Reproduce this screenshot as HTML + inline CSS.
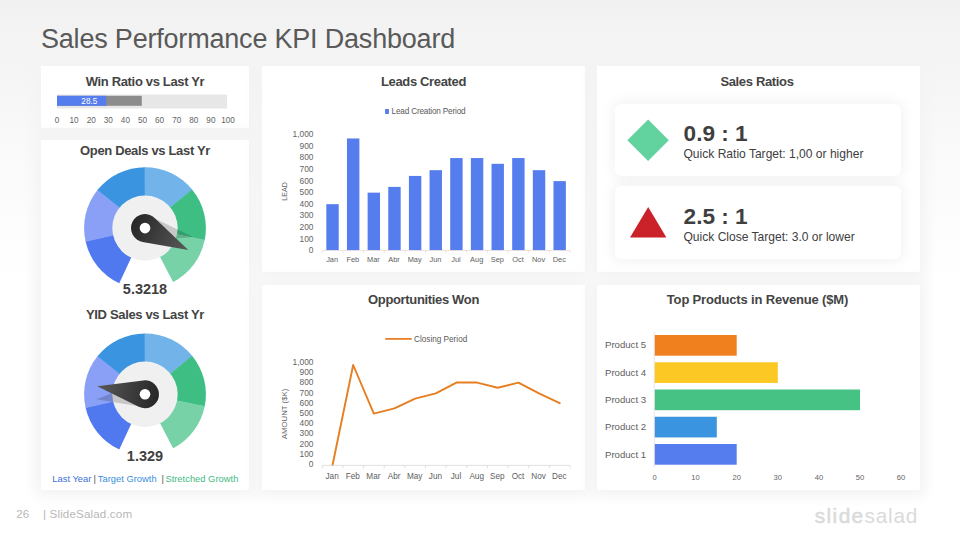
<!DOCTYPE html>
<html><head><meta charset="utf-8"><title>Sales Performance KPI Dashboard</title>
<style>
html,body{margin:0;padding:0}
body{width:960px;height:540px;overflow:hidden;position:relative;font-family:"Liberation Sans",sans-serif;
background:linear-gradient(180deg,#F1F1F1 0px,#F5F5F5 66px,#F9F9F9 140px,#FDFDFD 220px,#FFFFFF 290px);}
.card{position:absolute;background:#fff;box-shadow:0 0 14px 6px rgba(243,243,243,1);border-radius:1px}
.t{position:absolute;font-weight:bold;font-size:13px;letter-spacing:-0.34px;color:#444;text-align:center;white-space:nowrap;line-height:16px}
#title{position:absolute;left:41px;top:23px;font-size:27px;color:#595959;white-space:nowrap;line-height:32px;letter-spacing:-0.2px}
svg{position:absolute;left:0;top:0}
svg text{font-family:"Liberation Sans",sans-serif}
.ax{font-size:8.4px;fill:#646464}
.mx{font-size:7.4px;fill:#5E5E5E}
.ax2{font-size:7.6px;fill:#646464}
.lg{font-size:8.2px;letter-spacing:-0.17px;fill:#5A5A5A}
.pl{font-size:9.6px;fill:#606060}
.inner{position:absolute;background:#fff;border-radius:6px;box-shadow:0 0 14px 2px rgba(0,0,0,.06)}
.big{position:absolute;font-weight:bold;font-size:22.6px;letter-spacing:0px;color:#3F3F3F;white-space:nowrap;line-height:28px}
.sm{position:absolute;font-size:12.05px;color:#404040;white-space:nowrap;line-height:14px}
.val{position:absolute;font-weight:bold;font-size:14.5px;color:#404040;text-align:center;white-space:nowrap;line-height:18px}
.foot{position:absolute;font-size:11.6px;letter-spacing:0.15px;color:#B8B8B8;white-space:nowrap;line-height:12px}
</style></head><body>
<div id="title">Sales Performance KPI Dashboard</div>

<div class="card" style="left:41px;top:65.7px;width:207.8px;height:62.7px"></div>
<div class="card" style="left:41px;top:139.8px;width:207.8px;height:350px"></div>
<div class="card" style="left:262.2px;top:65.7px;width:322.6px;height:206px"></div>
<div class="card" style="left:262.2px;top:284.8px;width:322.6px;height:205px"></div>
<div class="card" style="left:597.3px;top:65.7px;width:322.8px;height:206px"></div>
<div class="card" style="left:597.3px;top:284.8px;width:322.8px;height:205px"></div>

<div class="inner" style="left:615px;top:104px;width:286px;height:72px"></div>
<div class="inner" style="left:615px;top:186px;width:286px;height:73px"></div>

<svg width="960" height="540" viewBox="0 0 960 540">
<defs>
<linearGradient id="ng1" gradientUnits="userSpaceOnUse" x1="131" y1="222" x2="189" y2="250"><stop offset="0" stop-color="#262626"/><stop offset="1" stop-color="#5A5A5A"/></linearGradient>
<linearGradient id="ng2" gradientUnits="userSpaceOnUse" x1="159" y1="398" x2="96" y2="386"><stop offset="0" stop-color="#262626"/><stop offset="1" stop-color="#5A5A5A"/></linearGradient>
</defs>
<!-- win ratio bar -->
<rect x="57" y="94.5" width="170" height="14" fill="#E7E7E7"/>
<rect x="57" y="95.8" width="84.8" height="10" fill="#8C8C8C"/>
<rect x="57" y="95.8" width="49.2" height="10" fill="#557DEE"/>
<text x="89.3" y="103.9" text-anchor="middle" font-size="8.2" fill="#fff">28.5</text>
<g class="ax" text-anchor="middle">
<text x="57.0" y="123" style="font-size:8.2px">0</text><text x="74.1" y="123" style="font-size:8.2px">10</text><text x="91.2" y="123" style="font-size:8.2px">20</text><text x="108.3" y="123" style="font-size:8.2px">30</text><text x="125.4" y="123" style="font-size:8.2px">40</text><text x="142.5" y="123" style="font-size:8.2px">50</text><text x="159.6" y="123" style="font-size:8.2px">60</text><text x="176.7" y="123" style="font-size:8.2px">70</text><text x="193.8" y="123" style="font-size:8.2px">80</text><text x="210.9" y="123" style="font-size:8.2px">90</text><text x="228.0" y="123" style="font-size:8.2px">100</text>
</g>
<!-- gauges -->
<path d="M145 228.1L119.26 283.29A60.9 60.9 0 0 1 85.54 241.28Z" fill="#5079F0"/>
<path d="M145 228.1L85.64 241.70A60.9 60.9 0 0 1 97.67 189.77Z" fill="#8AA0F6"/>
<path d="M145 228.1L97.41 190.11A60.9 60.9 0 0 1 145.00 167.20Z" fill="#3A94E0"/>
<path d="M145 228.1L144.57 167.20A60.9 60.9 0 0 1 192.33 189.77Z" fill="#72B4EA"/>
<path d="M145 228.1L192.06 189.44A60.9 60.9 0 0 1 204.68 240.24Z" fill="#3FBE84"/>
<path d="M145 228.1L204.76 239.82A60.9 60.9 0 0 1 173.12 282.12Z" fill="#77D3A7"/>
<circle cx="145" cy="228.1" r="32.7" fill="#F0F0F0"/>
<path d="M193.18 237.03L150.68 216.40A13 13 0 1 0 146.11 241.05Z" fill="#000" opacity="0.17"/>
<path d="M188.29 249.97L154.65 217.96A14 14 0 1 0 142.56 241.89Z" fill="url(#ng1)"/>
<circle cx="145" cy="228.1" r="5.3" fill="#fff"/>

<path d="M145 394.3L119.26 449.49A60.9 60.9 0 0 1 85.54 407.48Z" fill="#5079F0"/>
<path d="M145 394.3L85.64 407.90A60.9 60.9 0 0 1 97.67 355.97Z" fill="#8AA0F6"/>
<path d="M145 394.3L97.41 356.31A60.9 60.9 0 0 1 145.00 333.40Z" fill="#3A94E0"/>
<path d="M145 394.3L144.57 333.40A60.9 60.9 0 0 1 192.33 355.97Z" fill="#72B4EA"/>
<path d="M145 394.3L192.06 355.64A60.9 60.9 0 0 1 204.68 406.44Z" fill="#3FBE84"/>
<path d="M145 394.3L204.76 406.02A60.9 60.9 0 0 1 173.12 448.32Z" fill="#77D3A7"/>
<circle cx="145" cy="394.3" r="32.7" fill="#F0F0F0"/>
<path d="M96.25 399.25L142.84 407.12A13 13 0 1 0 140.30 382.18Z" fill="#000" opacity="0.17"/>
<path d="M97.19 386.13L138.76 406.83A14 14 0 1 0 143.27 380.41Z" fill="url(#ng2)"/>
<circle cx="145" cy="394.3" r="5.3" fill="#fff"/>

<!-- leads -->
<text x="313.5" y="253.1" text-anchor="end" class="ax">0</text>
<text x="313.5" y="241.5" text-anchor="end" class="ax">100</text>
<text x="313.5" y="229.9" text-anchor="end" class="ax">200</text>
<text x="313.5" y="218.3" text-anchor="end" class="ax">300</text>
<text x="313.5" y="206.7" text-anchor="end" class="ax">400</text>
<text x="313.5" y="195.1" text-anchor="end" class="ax">500</text>
<text x="313.5" y="183.5" text-anchor="end" class="ax">600</text>
<text x="313.5" y="171.9" text-anchor="end" class="ax">700</text>
<text x="313.5" y="160.3" text-anchor="end" class="ax">800</text>
<text x="313.5" y="148.7" text-anchor="end" class="ax">900</text>
<text x="313.5" y="137.1" text-anchor="end" class="ax">1,000</text>
<rect x="326.32" y="204.18" width="12.4" height="46.12" fill="#557DEE"/>
<text x="332.1" y="262.2" text-anchor="middle" class="mx">Jan</text>
<rect x="346.97" y="138.46" width="12.4" height="111.84" fill="#557DEE"/>
<text x="352.8" y="262.2" text-anchor="middle" class="mx">Feb</text>
<rect x="367.62" y="192.65" width="12.4" height="57.65" fill="#557DEE"/>
<text x="373.4" y="262.2" text-anchor="middle" class="mx">Mar</text>
<rect x="388.27" y="186.89" width="12.4" height="63.41" fill="#557DEE"/>
<text x="394.1" y="262.2" text-anchor="middle" class="mx">Abr</text>
<rect x="408.92" y="175.93" width="12.4" height="74.37" fill="#557DEE"/>
<text x="414.7" y="262.2" text-anchor="middle" class="mx">May</text>
<rect x="429.57" y="170.17" width="12.4" height="80.13" fill="#557DEE"/>
<text x="435.4" y="262.2" text-anchor="middle" class="mx">Jun</text>
<rect x="450.22" y="158.06" width="12.4" height="92.24" fill="#557DEE"/>
<text x="456.0" y="262.2" text-anchor="middle" class="mx">Jul</text>
<rect x="470.88" y="158.06" width="12.4" height="92.24" fill="#557DEE"/>
<text x="476.7" y="262.2" text-anchor="middle" class="mx">Aug</text>
<rect x="491.52" y="163.83" width="12.4" height="86.47" fill="#557DEE"/>
<text x="497.3" y="262.2" text-anchor="middle" class="mx">Sep</text>
<rect x="512.17" y="158.06" width="12.4" height="92.24" fill="#557DEE"/>
<text x="518.0" y="262.2" text-anchor="middle" class="mx">Oct</text>
<rect x="532.83" y="170.17" width="12.4" height="80.13" fill="#557DEE"/>
<text x="538.6" y="262.2" text-anchor="middle" class="mx">Nov</text>
<rect x="553.47" y="181.12" width="12.4" height="69.18" fill="#557DEE"/>
<text x="559.3" y="262.2" text-anchor="middle" class="mx">Dec</text>
<path d="M322.2 250.5H570.00M322.20 250.5v2.4M342.85 250.5v2.4M363.50 250.5v2.4M384.15 250.5v2.4M404.80 250.5v2.4M425.45 250.5v2.4M446.10 250.5v2.4M466.75 250.5v2.4M487.40 250.5v2.4M508.05 250.5v2.4M528.70 250.5v2.4M549.35 250.5v2.4M570.00 250.5v2.4" stroke="#EBDADA" stroke-width="0.8" fill="none"/>
<rect x="385.1" y="109" width="3.8" height="5" fill="#557DEE"/>
<text x="391.5" y="113.7" class="lg">Lead Creation Period</text>
<text transform="translate(287,191.5) rotate(-90)" text-anchor="middle" class="ax" style="font-size:7.1px">LEAD</text>

<!-- opps -->
<text x="313.5" y="466.9" text-anchor="end" class="ax">0</text>
<text x="313.5" y="456.7" text-anchor="end" class="ax">100</text>
<text x="313.5" y="446.5" text-anchor="end" class="ax">200</text>
<text x="313.5" y="436.2" text-anchor="end" class="ax">300</text>
<text x="313.5" y="426.1" text-anchor="end" class="ax">400</text>
<text x="313.5" y="415.9" text-anchor="end" class="ax">500</text>
<text x="313.5" y="405.7" text-anchor="end" class="ax">600</text>
<text x="313.5" y="395.5" text-anchor="end" class="ax">700</text>
<text x="313.5" y="385.2" text-anchor="end" class="ax">800</text>
<text x="313.5" y="375.1" text-anchor="end" class="ax">900</text>
<text x="313.5" y="364.9" text-anchor="end" class="ax">1,000</text>
<polyline points="332.52,465.20 353.18,365.00 373.82,413.55 394.47,408.38 415.12,398.57 435.77,393.41 456.42,382.56 477.07,382.56 497.72,387.72 518.38,382.56 539.02,393.41 559.67,403.22" fill="none" stroke="#E67E22" stroke-width="1.9" stroke-linejoin="round" stroke-linecap="round"/>
<text x="332.1" y="479.1" text-anchor="middle" class="mx" style="font-size:8.2px">Jan</text>
<text x="352.8" y="479.1" text-anchor="middle" class="mx" style="font-size:8.2px">Feb</text>
<text x="373.4" y="479.1" text-anchor="middle" class="mx" style="font-size:8.2px">Mar</text>
<text x="394.1" y="479.1" text-anchor="middle" class="mx" style="font-size:8.2px">Abr</text>
<text x="414.7" y="479.1" text-anchor="middle" class="mx" style="font-size:8.2px">May</text>
<text x="435.4" y="479.1" text-anchor="middle" class="mx" style="font-size:8.2px">Jun</text>
<text x="456.0" y="479.1" text-anchor="middle" class="mx" style="font-size:8.2px">Jul</text>
<text x="476.7" y="479.1" text-anchor="middle" class="mx" style="font-size:8.2px">Aug</text>
<text x="497.3" y="479.1" text-anchor="middle" class="mx" style="font-size:8.2px">Sep</text>
<text x="518.0" y="479.1" text-anchor="middle" class="mx" style="font-size:8.2px">Oct</text>
<text x="538.6" y="479.1" text-anchor="middle" class="mx" style="font-size:8.2px">Nov</text>
<text x="559.3" y="479.1" text-anchor="middle" class="mx" style="font-size:8.2px">Dec</text>
<path d="M322.2 465.4H570.00M322.20 465.4v3M342.85 465.4v3M363.50 465.4v3M384.15 465.4v3M404.80 465.4v3M425.45 465.4v3M446.10 465.4v3M466.75 465.4v3M487.40 465.4v3M508.05 465.4v3M528.70 465.4v3M549.35 465.4v3M570.00 465.4v3" stroke="#D9D9D9" stroke-width="0.8" fill="none"/>
<path d="M386 338.9H411" stroke="#E67E22" stroke-width="1.9" stroke-linecap="round"/>
<text x="414" y="341.5" class="lg" style="letter-spacing:0">Closing Period</text>
<text transform="translate(287,414) rotate(-90)" text-anchor="middle" class="ax" style="font-size:7.8px">AMOUNT ($K)</text>

<!-- products -->
<rect x="654.5" y="335.0" width="82.2" height="20.7" fill="#F07F1E"/>
<text x="605" y="348.1" class="pl">Product 5</text>
<rect x="654.5" y="362.25" width="123.3" height="20.7" fill="#FCC924"/>
<text x="605" y="375.5" class="pl">Product 4</text>
<rect x="654.5" y="389.5" width="205.5" height="20.7" fill="#47C285"/>
<text x="605" y="402.9" class="pl">Product 3</text>
<rect x="654.5" y="416.75" width="62.3" height="20.7" fill="#3A94E0"/>
<text x="605" y="430.3" class="pl">Product 2</text>
<rect x="654.5" y="444.0" width="82.2" height="20.7" fill="#557DEE"/>
<text x="605" y="457.7" class="pl">Product 1</text>
<path d="M654.3 331.5V467" stroke="#EADCDC" stroke-width="0.8"/>
<text x="654.5" y="480.4" text-anchor="middle" class="ax2">0</text>
<text x="695.6" y="480.4" text-anchor="middle" class="ax2">10</text>
<text x="736.7" y="480.4" text-anchor="middle" class="ax2">20</text>
<text x="777.8" y="480.4" text-anchor="middle" class="ax2">30</text>
<text x="818.9" y="480.4" text-anchor="middle" class="ax2">40</text>
<text x="860.0" y="480.4" text-anchor="middle" class="ax2">50</text>
<text x="901.1" y="480.4" text-anchor="middle" class="ax2">60</text>

<!-- icons -->
<path d="M648.1 119.5L668.8 140.2L648.1 160.9L627.4 140.2Z" fill="#62D29F"/>
<path d="M648.2 207L666.4 237.6H630Z" fill="#CB2128"/>
</svg>

<div class="t" style="left:41px;width:208px;top:74px">Win Ratio vs Last Yr</div>
<div class="t" style="left:41px;width:208px;top:143px">Open Deals vs Last Yr</div>
<div class="t" style="left:41px;width:208px;top:306.7px">YID Sales vs Last Yr</div>
<div class="t" style="left:262px;width:323px;top:73.8px">Leads Created</div>
<div class="t" style="left:262px;width:323px;top:292.2px">Opportunities Won</div>
<div class="t" style="left:595.5px;width:323px;top:73.8px">Sales Ratios</div>
<div class="t" style="left:596px;width:323px;top:291.8px;letter-spacing:-0.17px">Top Products in Revenue ($M)</div>

<div class="val" style="left:41px;width:208px;top:280px">5.3218</div>
<div class="val" style="left:41px;width:208px;top:447px">1.329</div>

<div class="big" style="left:683.6px;top:119.9px">0.9 : 1</div>
<div class="sm" style="left:683.5px;top:147px">Quick Ratio Target: 1,00 or higher</div>
<div class="big" style="left:683.6px;top:202.9px">2.5 : 1</div>
<div class="sm" style="left:683.5px;top:230px">Quick Close Target: 3.0 or lower</div>

<div class="foot" style="left:52.3px;top:472.6px;font-size:9.4px;letter-spacing:0;color:#3E6FD9">Last Year</div>
<div class="foot" style="left:93.5px;top:472.6px;font-size:9.4px;letter-spacing:0;color:#555">|</div>
<div class="foot" style="left:97.8px;top:472.6px;font-size:9.4px;letter-spacing:0;color:#3A8FDB">Target Growth</div>
<div class="foot" style="left:161.4px;top:472.6px;font-size:9.4px;letter-spacing:0;color:#555">|</div>
<div class="foot" style="left:165.4px;top:472.6px;font-size:9.4px;letter-spacing:0;color:#45B985">Stretched Growth</div>

<div class="foot" style="left:16.2px;top:507.8px">26</div>
<div class="foot" style="left:43px;top:507.8px">| SlideSalad.com</div>
<div id="logo" style="position:absolute;left:814.8px;top:501.8px;font-size:20.8px;line-height:28px;color:#DADADA;white-space:nowrap"><span id="lg1" style="letter-spacing:1.4px;-webkit-text-stroke:0.55px #DADADA">slide</span><span id="lg2" style="letter-spacing:0.75px">salad</span></div>
</body></html>
